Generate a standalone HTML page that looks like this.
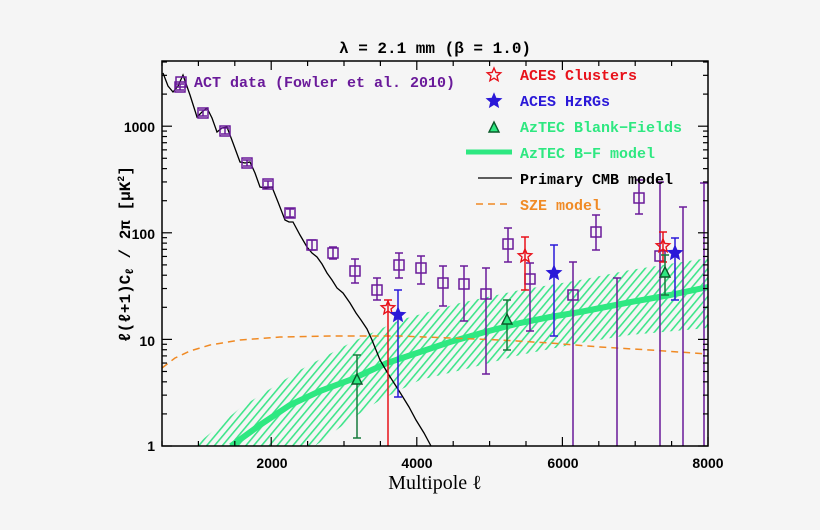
<!DOCTYPE html>
<html><head><meta charset="utf-8"><style>
html,body{margin:0;padding:0;background:#f5f5f5;}
svg{display:block;font-family:"Liberation Mono","DejaVu Sans Mono",monospace;}
</style></head><body>
<svg width="820" height="530" viewBox="0 0 820 530" xmlns="http://www.w3.org/2000/svg">
<defs>
<pattern id="h" patternUnits="userSpaceOnUse" width="6" height="20" patternTransform="rotate(40)">
<rect x="0" y="0" width="1.6" height="20" fill="#3ee58a"/>
</pattern>
<clipPath id="c"><rect x="162" y="61" width="546" height="385"/></clipPath>
</defs>
<rect width="820" height="530" fill="#f5f5f5"/>
<g clip-path="url(#c)">
<polygon fill="url(#h)" points="195,446 240,408 300,370 350,343 400,320 460,303 520,290 580,280 630,270 708,258 708,328 630,335 580,343 520,355 470,368 420,380 380,400 350,420 315,446"/>
<polyline fill="none" stroke="#2ee881" stroke-width="6" points="231,446 260,425 290,405 320,391 350,380 387,363 420,352 450,342 485,332 520,323 550,317 580,312 631,302 670,295 708,287"/>
<polyline fill="none" stroke="#f08a24" stroke-width="1.5" stroke-dasharray="7,5" points="162,368 175,358 190,351 210,345 240,340 280,337 330,336 400,336 450,338 500,340 550,343 600,347 650,350 708,354"/>
<polyline fill="none" stroke="#000" stroke-width="1.3" points="163,73 168,86 173,92 178,86 183,75 190,95 197,117 202,112 207,108 212,118 217,132 222,128 227,127 233,143 240,162 245,163 250,162 255,173 260,187 266,188 272,187 278,202 285,220 289,222 293,222 300,235 307,247 312,253 317,257 322,264 327,273 332,280 337,288 343,293 350,303 356,313 361,320 367,329 372,340 376,350 380,360 387,372 394,383 401,394 409,407 416,420 424,433 431,446"/>
</g>
<g id="pts"></g>
<rect x="162" y="61" width="546" height="385" fill="none" stroke="#000" stroke-width="1.5"/>
<g id="ticks" stroke="#000" stroke-width="1.2"></g>
<g font-size="14" font-weight="bold" fill="#000" font-family="Liberation Sans,sans-serif">
<text x="272" y="468" text-anchor="middle">2000</text>
<text x="417" y="468" text-anchor="middle">4000</text>
<text x="563" y="468" text-anchor="middle">6000</text>
<text x="708" y="468" text-anchor="middle">8000</text>
<text x="155" y="132" text-anchor="end">1000</text>
<text x="155" y="239" text-anchor="end">100</text>
<text x="155" y="346" text-anchor="end">10</text>
<text x="155" y="451" text-anchor="end">1</text>
</g>
<text x="435" y="489" text-anchor="middle" font-size="20" font-family="Liberation Serif,serif">Multipole ℓ</text>
<text x="435" y="53" text-anchor="middle" font-size="16" font-weight="bold">λ = 2.1 mm (β = 1.0)</text>
<text transform="translate(130,254) rotate(-90)" text-anchor="middle" font-size="16" font-weight="bold">ℓ(ℓ+1)C<tspan font-size="11" dy="3">ℓ</tspan><tspan dy="-3"> / 2π [μK</tspan><tspan font-size="10" dy="-6">2</tspan><tspan dy="6">]</tspan></text>
<text x="194" y="87" font-size="15" font-weight="bold" fill="#6a1a9a">ACT data (Fowler et al. 2010)</text>
<g font-size="15" font-weight="bold">
<text x="520" y="80" fill="#e8111a">ACES Clusters</text>
<text x="520" y="106" fill="#2a18d8">ACES HzRGs</text>
<text x="520" y="132" fill="#2ee881">AzTEC Blank−Fields</text>
<text x="520" y="158" fill="#2ee881">AzTEC B−F model</text>
<text x="520" y="184" fill="#000">Primary CMB model</text>
<text x="520" y="210" fill="#f08a24">SZE model</text>
</g>
<line x1="466" y1="152" x2="512" y2="152" stroke="#2ee881" stroke-width="5"/>
<line x1="478" y1="178" x2="512" y2="178" stroke="#000" stroke-width="1.3"/>
<line x1="476" y1="204" x2="512" y2="204" stroke="#f08a24" stroke-width="1.5" stroke-dasharray="7,5"/>
<g id="leg"></g>
<script>
var NS="http://www.w3.org/2000/svg";
function el(p,t,a){var e=document.createElementNS(NS,t);for(var k in a)e.setAttribute(k,a[k]);p.appendChild(e);return e;}
var T=document.getElementById('ticks');
function tx(x,len){el(T,'line',{x1:x,y1:446,x2:x,y2:446-len});el(T,'line',{x1:x,y1:61,x2:x,y2:61+len});}
for(var v=500;v<=8000;v+=500){var x=162+(v-500)*546/7500;tx(x,v%2000==0?9:5);}
for(var d=0;d<4;d++){for(var m=1;m<10;m++){var y=446-(d+Math.log10(m))*106.6;if(y<61)continue;var L=m==1?10:5;el(T,'line',{x1:162,y1:y,x2:162+L,y2:y});el(T,'line',{x1:708,y1:y,x2:708-L,y2:y});}}
var P=document.getElementById('pts');
function bar(x,y1,y2,c){el(P,'line',{x1:x,y1:y1,x2:x,y2:y2,stroke:c,'stroke-width':1.5});el(P,'line',{x1:x-4,y1:y1,x2:x+4,y2:y1,stroke:c,'stroke-width':1.5});if(y2<446)el(P,'line',{x1:x-4,y1:y2,x2:x+4,y2:y2,stroke:c,'stroke-width':1.5});}
var pur="#6a1a9a";
var act=[[180,87,84,90],[203,113,110,116],[225,131,128,134],[247,163,160,166],[268,184,181,187],[290,213,209,217],[312,245,240,250],[333,253,247,259],[355,271,259,283],[377,290,278,300],[399,265,253,278],[421,268,256,284],[443,283,266,306],[464,284,266,321],[486,294,268,374],[508,244,228,262],[530,279,263,331],[573,295,262,446],[596,232,215,250],[639,198,180,214],[660,256,182,446]];
act.forEach(function(a){bar(a[0],a[2],a[3],pur);el(P,'rect',{x:a[0]-5,y:a[1]-5,width:10,height:10,fill:'none',stroke:pur,'stroke-width':1.5});});
bar(617,278,446,pur);bar(683,207,446,pur);bar(704,183,446,pur);
function star(g,x,y,r,fill,c){var p=[];for(var i=0;i<10;i++){var rr=i%2?r*0.45:r;var a=-Math.PI/2+i*Math.PI/5;p.push((x+rr*Math.cos(a)).toFixed(1)+','+(y+rr*Math.sin(a)).toFixed(1));}el(g,'polygon',{points:p.join(' '),fill:fill,stroke:c,'stroke-width':1.4});}
function tri(g,x,y){el(g,'polygon',{points:(x-5)+','+(y+4)+' '+(x+5)+','+(y+4)+' '+x+','+(y-6),fill:'#2ee881',stroke:'#0a5a2a','stroke-width':1.4});}
var red="#e8111a",blu="#2a18d8",grn="#167a3c";
bar(388,300,446,red);star(P,388,308,7,'none',red);
bar(525,237,290,red);star(P,525,256,7,'none',red);
bar(663,232,262,red);star(P,663,246,7,'none',red);
bar(398,290,397,blu);star(P,398,315,7,blu,blu);
bar(554,245,336,blu);star(P,554,273,7,blu,blu);
bar(675,238,300,blu);star(P,675,253,7,blu,blu);
bar(357,355,438,grn);tri(P,357,380);
bar(507,300,350,grn);tri(P,507,320);
bar(665,255,295,grn);tri(P,665,273);
var G=document.getElementById('leg');
el(G,'rect',{x:176,y:77,width:10,height:10,fill:'none',stroke:pur,'stroke-width':1.5});
star(G,494,75,7,'none',red);star(G,494,101,7,blu,blu);tri(G,494,128);
</script>
</svg>
</body></html>
